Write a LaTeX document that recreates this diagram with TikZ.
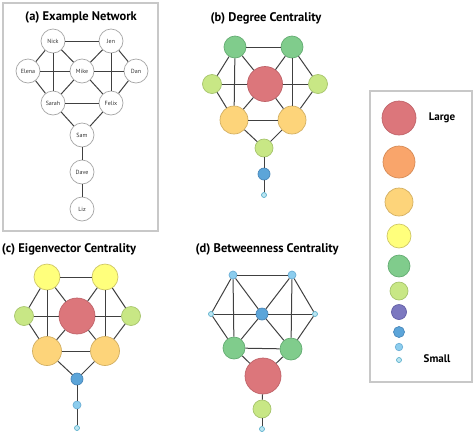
\documentclass[tikz,border=0pt]{standalone}
\usepackage{fontspec}
\setmainfont{PT Sans}
\definecolor{cRed}{HTML}{DC767B}\definecolor{oRed}{HTML}{BF6268}
\definecolor{cOra}{HTML}{F9A56B}\definecolor{oOra}{HTML}{D58A55}
\definecolor{cYO}{HTML}{FDD47A}\definecolor{oYO}{HTML}{D2AF62}
\definecolor{cYel}{HTML}{FFFF7C}\definecolor{oYel}{HTML}{CFC766}
\definecolor{cGrn}{HTML}{80CC8C}\definecolor{oGrn}{HTML}{64AC73}
\definecolor{cLG}{HTML}{C8E785}\definecolor{oLG}{HTML}{A6C46C}
\definecolor{cPur}{HTML}{7C78C0}\definecolor{oPur}{HTML}{625EA6}
\definecolor{cBlu}{HTML}{5CA5D9}\definecolor{oBlu}{HTML}{4887BA}
\definecolor{cLB}{HTML}{8CCDEE}\definecolor{oLB}{HTML}{6BAFD6}
\definecolor{cTin}{HTML}{BCE6F2}\definecolor{oTin}{HTML}{5DB0CC}
\definecolor{frameGray}{HTML}{C8C8C8}
\definecolor{edgeGray}{HTML}{404040}
\tikzset{
  edge/.style={draw=edgeGray, line width=1pt},
  panelbox/.style={draw=frameGray, line width=1.2pt},
  ttl/.style={font=\fontsize{12.5}{14}\selectfont\bfseries, inner sep=0pt},
  lbl/.style={font=\fontsize{11}{13}\selectfont\bfseries, inner sep=0pt},
  pnode/.style={circle, draw=gray!70, fill=white, line width=0.7pt, minimum size=24pt, inner sep=0pt, font=\fontsize{6}{7}\selectfont, text=black!80},
  cn/.style 2 args={circle, inner sep=0pt, line width=0.7pt, fill=c#1, draw=o#1, minimum size=#2},
  Red/.style={cn={Red}{#1}}, Ora/.style={cn={Ora}{#1}}, YO/.style={cn={YO}{#1}},
  Yel/.style={cn={Yel}{#1}}, Grn/.style={cn={Grn}{#1}}, LG/.style={cn={LG}{#1}},
  Pur/.style={cn={Pur}{#1}}, Blu/.style={cn={Blu}{#1}}, LB/.style={cn={LB}{#1}},
  Tin/.style={cn={Tin}{#1}},
}
\begin{document}
\begin{tikzpicture}[x=1pt,y=-1pt]
\useasboundingbox (0,0) rectangle (474,432);
% ---------- (a) ----------
\draw[panelbox] (3,3) rectangle (158,231);
\node[ttl] (ta) at (81,17) {(a) Example Network};
\node[pnode] (anick)  at (53,41)  {Nick};
\node[pnode] (ajen)   at (111,41) {Jen};
\node[pnode] (aelena) at (28,71)  {Elena};
\node[pnode] (amike)  at (82,71)  {Mike};
\node[pnode] (adan)   at (136,71) {Dan};
\node[pnode] (asarah) at (53,103) {Sarah};
\node[pnode] (afelix) at (111,103){Felix};
\node[pnode] (asam)   at (82,135) {Sam};
\node[pnode] (adave)  at (82,172) {Dave};
\node[pnode] (aliz)   at (82,209) {Liz};
% ---------- (b) ----------
\node[ttl] (tb) at (266,18) {(b) Degree Centrality};
\node[Grn=22pt] (bnick)  at (235,47) {};
\node[Grn=22pt] (bjen)   at (292,47) {};
\node[LG=19pt]  (belena) at (212,84) {};
\node[Red=35pt] (bmike)  at (265,84) {};
\node[LG=19pt]  (bdan)   at (318,84) {};
\node[YO=28pt]  (bsarah) at (234,120) {};
\node[YO=28pt]  (bfelix) at (292,120) {};
\node[LG=18pt]  (bsam)   at (264,148) {};
\node[Blu=12pt] (bdave)  at (264,174) {};
\node[Tin=5pt]  (bliz)   at (264,195) {};
% ---------- (c) ----------
\node[ttl] (tc) at (69,249) {(c) Eigenvector Centrality};
\node[Yel=26pt] (cnick)  at (47,277) {};
\node[Yel=26pt] (cjen)   at (105,277) {};
\node[LG=19pt]  (celena) at (24,316) {};
\node[Red=36pt] (cmike)  at (77,316) {};
\node[LG=19pt]  (cdan)   at (131,316) {};
\node[YO=29pt]  (csarah) at (47,351) {};
\node[YO=29pt]  (cfelix) at (105,351) {};
\node[Blu=12pt] (csam)   at (77,379) {};
\node[LB=8pt]   (cdave)  at (77,405) {};
\node[Tin=5pt]  (cliz)   at (77,428) {};
% ---------- (d) ----------
\node[ttl] (td) at (267,249) {(d) Betweenness Centrality};
\node[LB=8pt]   (dnick)  at (233,275) {};
\node[LB=8pt]   (djen)   at (292,275) {};
\node[Tin=5pt]  (delena) at (211,314) {};
\node[Blu=12pt] (dmike)  at (262,314) {};
\node[Tin=5pt]  (ddan)   at (315,314) {};
\node[Grn=22pt] (dsarah) at (234,348) {};
\node[Grn=22pt] (dfelix) at (291,349) {};
\node[Red=36pt] (dsam)   at (263,376) {};
\node[LG=18pt]  (ddave)  at (262,409) {};
\node[Tin=5pt]  (dliz)   at (262,429) {};
% ---------- edges ----------
\foreach \p in {a,b,c,d}{
  \foreach \u/\v in {nick/jen,nick/elena,nick/mike,nick/sarah,jen/mike,jen/dan,jen/felix,
    elena/mike,elena/sarah,mike/dan,mike/sarah,mike/felix,dan/felix,sarah/felix,
    sarah/sam,felix/sam,sam/dave,dave/liz}
    \draw[edge] (\p\u) -- (\p\v);
}
% ---------- legend ----------
\draw[panelbox] (370,91) rectangle (472,382);
\node[Red=34pt] (l1) at (399,118) {};
\node[Ora=32pt] (l2) at (399,162) {};
\node[YO=28pt]  (l3) at (399,202) {};
\node[Yel=24pt] (l4) at (399,236) {};
\node[Grn=22pt] (l5) at (399,266) {};
\node[LG=18pt]  (l6) at (399,291) {};
\node[Pur=15pt] (l7) at (399,312) {};
\node[Blu=11pt] (l8) at (399,332) {};
\node[LB=7.5pt] (l9) at (399,347) {};
\node[Tin=5pt]  (l10) at (399,360) {};
\node[lbl] (large) at (442,118) {Large};
\node[lbl] (small) at (437,359) {Small};
\end{tikzpicture}
\end{document}
